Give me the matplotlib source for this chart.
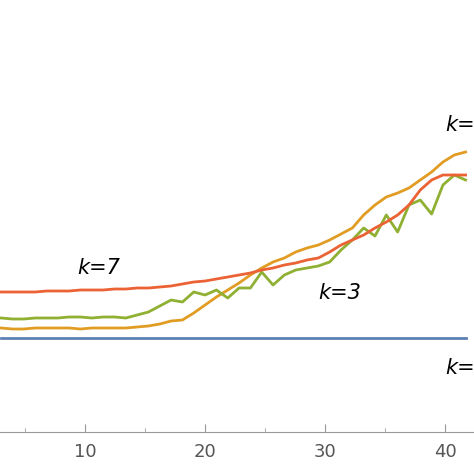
import matplotlib.pyplot as plt
import numpy as np

# values (arbitrary units, baseline = 0 at bottom axis)
x = np.linspace(3, 41.7, 42)
red_y = [292, 292, 292, 292, 291, 291, 291, 290, 290, 290, 289, 289, 288, 288, 287, 286,
         284, 282, 281, 279, 277, 275, 273, 270, 268, 265, 263, 260, 258, 252, 245, 240,
         235, 228, 222, 215, 205, 190, 180, 175, 175, 175]
green_y = [318, 319, 319, 318, 318, 318, 317, 317, 318, 317, 317, 318, 315, 312, 306, 300,
           302, 292, 295, 290, 298, 288, 288, 272, 285, 275, 270, 268, 266, 262, 250, 240,
           228, 236, 215, 232, 205, 200, 214, 185, 175, 180]
yellow_y = [328, 329, 329, 328, 328, 328, 328, 329, 328, 328, 328, 328, 327, 326, 324, 321,
            320, 313, 305, 297, 290, 283, 275, 268, 262, 258, 252, 248, 245, 240, 234, 228,
            215, 205, 197, 193, 188, 180, 172, 162, 155, 152]
blue_y = [338] * len(x)

to_val = lambda ys: [432 - v for v in ys]

fig = plt.figure(figsize=(4.74, 4.74), dpi=100)
ax = fig.add_axes([0, 42 / 474, 1, 432 / 474])

ax.plot(x, to_val(blue_y), color="#5E81B5", lw=2)
ax.plot(x, to_val(yellow_y), color="#E19C24", lw=2)
ax.plot(x, to_val(green_y), color="#8FB032", lw=2)
ax.plot(x, to_val(red_y), color="#EB6235", lw=2)

ax.set_xlim(2.9, 2.9 + 474 / 12)
ax.set_ylim(0, 432)

txt = dict(fontsize=15, style="italic", color="black")
ax.text(11.1, 432 - 268, "k=7", ha="center", va="center", **txt)
ax.text(31.2, 432 - 293, "k=3", ha="center", va="center", **txt)
ax.text(40.0, 432 - 125, "k=", ha="left", va="center", **txt)
ax.text(40.0, 432 - 368, "k=", ha="left", va="center", **txt)

for s in ["top", "right", "left"]:
    ax.spines[s].set_visible(False)
ax.spines["bottom"].set_color("#999999")
ax.set_yticks([])
ax.set_xticks([10, 20, 30, 40])
ax.set_xticks(np.arange(5, 45, 5), minor=True)
ax.tick_params(axis="x", direction="in", colors="#999999", labelcolor="#555555",
               labelsize=13, length=6, pad=8)
ax.tick_params(axis="x", which="minor", direction="in", length=3, colors="#999999")

fig.savefig("out.png", dpi=100)
